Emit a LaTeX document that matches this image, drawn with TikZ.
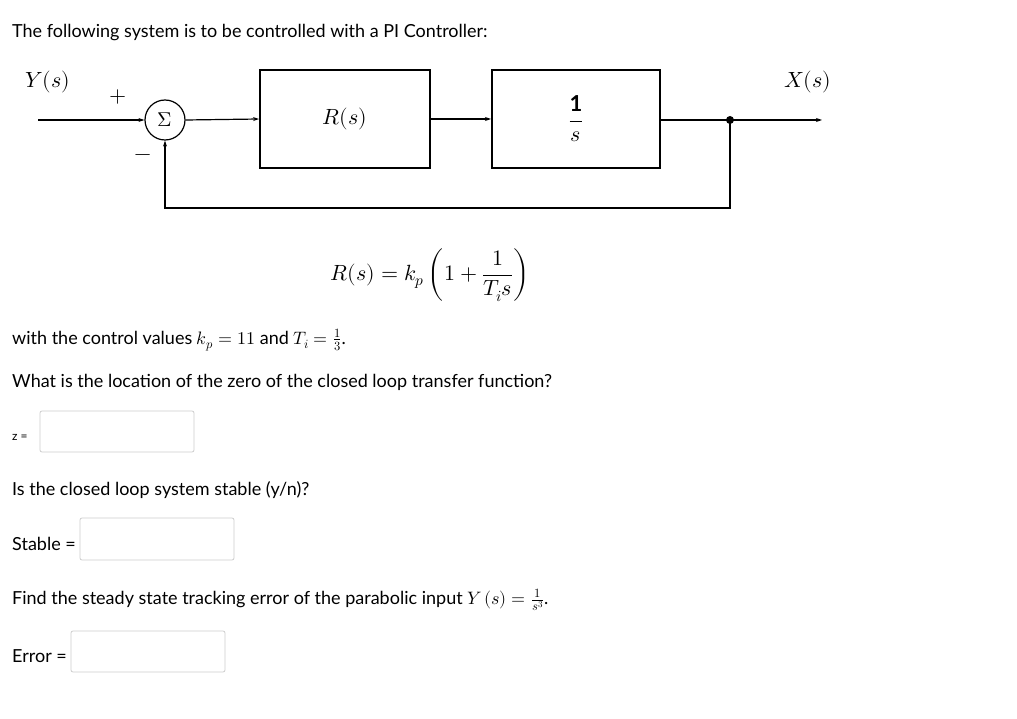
\documentclass[tikz,border=0pt]{standalone}
\usepackage{amsmath}
\usepackage{fontspec}
\usepackage{unicode-math}
\setmathfont{Latin Modern Math}
\setmainfont{Lato}
\usetikzlibrary{arrows.meta}
\begin{document}
\begin{tikzpicture}[x=1pt,y=-1pt,
  txt/.style={anchor=west,inner sep=0pt,font=\fontsize{18}{20}\selectfont},
  blk/.style={draw,line width=2pt},
  ans/.style={draw=black!20,rounded corners=2pt,line width=0.8pt},
  ln/.style={line width=1.2pt},
  arr/.style={ln,-{Stealth[length=6pt,width=4pt]}},
  mth/.style={inner sep=0pt,font=\fontsize{22}{24}\selectfont}]
\useasboundingbox (0,0) rectangle (1017,719);
\node[txt] (t1) at (12,33) {The following system is to be controlled with a PI Controller:};
\node[mth] (Y) at (48,82) {$Y(s)$};
\node[mth] (X) at (808,82) {$X(s)$};
\node[draw,circle,line width=1.2pt,minimum size=40pt,inner sep=0pt,font=\fontsize{20}{22}\selectfont] (S) at (165,120) {$\Sigma$};
\node[mth] (plus) at (118,97) {$+$};
\node[mth] (minus) at (143,158) {$-$};
\coordinate (in) at (38,120);
\node[blk,minimum width=170pt,minimum height=98pt] (R) at (345,119) {};
\node[mth] at (R) {$R(s)$};
\node[blk,minimum width=168pt,minimum height=98pt] (G) at (576,119) {};
\node[mth,font=\fontsize{22}{24}\selectfont] at (G) {$\dfrac{\mathbf{1}}{s}$};
\fill (730,120) circle (4pt);
\coordinate (br) at (730,120);
\coordinate (out) at (822,120);
\draw[arr] (in) -- (S.west);
\draw[arr] (S.east) -- (R.west);
\draw[arr] (R.east) -- (G.west);
\draw[ln] (G.east |- br) -- (br);
\draw[arr] (br) -- (out);
\draw[arr] (br) -- (730,208) -- (165,208) -- (S.south);
\node[mth,font=\fontsize{22}{24}\selectfont] (eq) at (430,275) {$R(s)=k_p\left(1+\dfrac{1}{T_i s}\right)$};
\node[txt] (t2) at (12,340) {with the control values $k_p=11$ and $T_i=\frac13$.};
\node[txt] (t3) at (12,382) {What is the location of the zero of the closed loop transfer function?};
\node[txt,font=\fontsize{12}{14}\selectfont] (z) at (12,437) {z =};
\draw[ans] (40,411) rectangle (194,452);
\node[txt] (t4) at (12,490) {Is the closed loop system stable (y/n)?};
\node[txt] (st) at (12,544) {Stable =};
\draw[ans] (80,518) rectangle (234,560);
\node[txt] (t5) at (12,600) {Find the steady state tracking error of the parabolic input $Y\,(s)=\frac{1}{s^3}$.};
\node[txt] (er) at (12,656) {Error =};
\draw[ans] (71,631) rectangle (225,672);
\end{tikzpicture}
\end{document}
